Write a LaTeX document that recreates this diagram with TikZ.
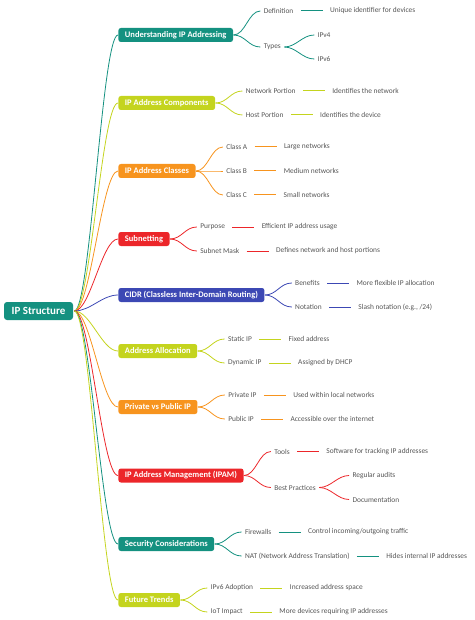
\documentclass[tikz,border=0pt]{standalone}
\usepackage{fontspec}
\setmainfont{Carlito}
\usetikzlibrary{calc,positioning}

\definecolor{brteal}{RGB}{20,145,128}
\definecolor{brlime}{RGB}{196,212,30}
\definecolor{brorange}{RGB}{247,148,30}
\definecolor{brred}{RGB}{236,38,42}
\definecolor{brblue}{RGB}{60,72,180}
\definecolor{txtgray}{RGB}{85,85,85}

\begin{document}
\begin{tikzpicture}[x=1pt,y=-1pt,line width=0.8pt]
   \tikzset{root/.style={fill=brteal, rounded corners=3pt, text=white, font=\fontsize{11}{13}\selectfont\bfseries, minimum width=69pt, minimum height=18pt, inner sep=0pt},
            topic/.style={fill=#1, rounded corners=2.5pt, text=white, font=\fontsize{8.5}{10}\selectfont\bfseries, anchor=west, minimum height=14pt, inner xsep=6.5pt, inner ysep=0pt},
            sub/.style={text=txtgray, font=\fontsize{7.4}{9}\selectfont, anchor=west, inner xsep=3pt, inner ysep=1pt},
            leafline/.style={line width=1pt, shorten <=4pt, shorten >=4pt}};

\useasboundingbox (0,0) rectangle (474,620);

\node[root] (root) at (38.5,311) {IP Structure};

% main topics
\node[topic=brteal] (t1) at (118,35) {Understanding IP Addressing};
\node[topic=brlime] (t2) at (118,103) {IP Address Components};
\node[topic=brorange] (t3) at (118,171) {IP Address Classes};
\node[topic=brred] (t4) at (118,239) {Subnetting};
\node[topic=brblue] (t5) at (118,295) {CIDR (Classless Inter-Domain Routing)};
\node[topic=brlime] (t6) at (118,351) {Address Allocation};
\node[topic=brorange] (t7) at (118,407) {Private vs Public IP};
\node[topic=brred] (t8) at (118,475.5) {IP Address Management (IPAM)};
\node[topic=brteal] (t9) at (118,544) {Security Considerations};
\node[topic=brlime] (t10) at (118,600) {Future Trends};

\foreach \t/\col in {t1/brteal,t2/brlime,t3/brorange,t4/brred,t5/brblue,t6/brlime,t7/brorange,t8/brred,t9/brteal,t10/brlime}
   \draw[draw=\col] ($(root.east)+(1,0)$) .. controls +(16,0) and +(-16,0) .. (\t.west);

% Understanding IP Addressing
\node[sub] (c11) at ($(t1.east)+(27,-24)$) {Definition};
\node[sub] (c12) at ($(t1.east)+(27,12)$) {Types};
\node[sub, right=30pt of c11] (l11) {Unique identifier for devices};
\node[sub] (g121) at ($(c12.east)+(30,-12)$) {IPv4};
\node[sub] (g122) at ($(c12.east)+(30,12)$) {IPv6};

% IP Address Components
\node[sub] (c21) at ($(t2.east)+(27,-12)$) {Network Portion};
\node[sub] (c22) at ($(t2.east)+(27,12)$) {Host Portion};
\node[sub, right=30pt of c21] (l21) {Identifies the network};
\node[sub, right=30pt of c22] (l22) {Identifies the device};

% IP Address Classes
\node[sub] (c31) at ($(t3.east)+(27,-24)$) {Class A};
\node[sub] (c32) at ($(t3.east)+(27,0)$) {Class B};
\node[sub] (c33) at ($(t3.east)+(27,24)$) {Class C};
\node[sub, right=30pt of c31] (l31) {Large networks};
\node[sub, right=30pt of c32] (l32) {Medium networks};
\node[sub, right=30pt of c33] (l33) {Small networks};

% Subnetting
\node[sub] (c41) at ($(t4.east)+(27,-12)$) {Purpose};
\node[sub] (c42) at ($(t4.east)+(27,12)$) {Subnet Mask};
\node[sub, right=30pt of c41] (l41) {Efficient IP address usage};
\node[sub, right=30pt of c42] (l42) {Defines network and host portions};

% CIDR
\node[sub] (c51) at ($(t5.east)+(27,-12)$) {Benefits};
\node[sub] (c52) at ($(t5.east)+(27,12)$) {Notation};
\node[sub, right=30pt of c51] (l51) {More flexible IP allocation};
\node[sub, right=30pt of c52] (l52) {Slash notation (e.g., /24)};

% Address Allocation
\node[sub] (c61) at ($(t6.east)+(27,-12)$) {Static IP};
\node[sub] (c62) at ($(t6.east)+(27,12)$) {Dynamic IP};
\node[sub, right=30pt of c61] (l61) {Fixed address};
\node[sub, right=30pt of c62] (l62) {Assigned by DHCP};

% Private vs Public IP
\node[sub] (c71) at ($(t7.east)+(27,-12)$) {Private IP};
\node[sub] (c72) at ($(t7.east)+(27,12)$) {Public IP};
\node[sub, right=30pt of c71] (l71) {Used within local networks};
\node[sub, right=30pt of c72] (l72) {Accessible over the internet};

% IPAM
\node[sub] (c81) at ($(t8.east)+(27,-24)$) {Tools};
\node[sub] (c82) at ($(t8.east)+(27,12)$) {Best Practices};
\node[sub, right=30pt of c81] (l81) {Software for tracking IP addresses};
\node[sub] (g821) at ($(c82.east)+(30,-12)$) {Regular audits};
\node[sub] (g822) at ($(c82.east)+(30,12)$) {Documentation};

% Security Considerations
\node[sub] (c91) at ($(t9.east)+(27,-12)$) {Firewalls};
\node[sub] (c92) at ($(t9.east)+(27,12)$) {NAT (Network Address Translation)};
\node[sub, right=30pt of c91] (l91) {Control incoming/outgoing traffic};
\node[sub, right=30pt of c92] (l92) {Hides internal IP addresses};

% Future Trends
\node[sub] (c101) at ($(t10.east)+(27,-12)$) {IPv6 Adoption};
\node[sub] (c102) at ($(t10.east)+(27,12)$) {IoT Impact};
\node[sub, right=30pt of c101] (l101) {Increased address space};
\node[sub, right=30pt of c102] (l102) {More devices requiring IP addresses};

% topic to sub-topic curves
\foreach \t/\s/\col in {t1/c11/brteal,t1/c12/brteal,c12/g121/brteal,c12/g122/brteal,
                      t2/c21/brlime,t2/c22/brlime,t3/c31/brorange,t3/c32/brorange,t3/c33/brorange,
                      t4/c41/brred,t4/c42/brred,t5/c51/brblue,t5/c52/brblue,
                      t6/c61/brlime,t6/c62/brlime,t7/c71/brorange,t7/c72/brorange,
                      t8/c81/brred,t8/c82/brred,c82/g821/brred,c82/g822/brred,
                      t9/c91/brteal,t9/c92/brteal,t10/c101/brlime,t10/c102/brlime}
   \draw[draw=\col] (\t.east) .. controls +(12,0) and +(-12,0) .. (\s.west);

% sub-topic to leaf lines
\foreach \s/\lf/\col in {c11/l11/brteal,c21/l21/brlime,c22/l22/brlime,c31/l31/brorange,c32/l32/brorange,c33/l33/brorange,
                      c41/l41/brred,c42/l42/brred,c51/l51/brblue,c52/l52/brblue,c61/l61/brlime,c62/l62/brlime,
                      c71/l71/brorange,c72/l72/brorange,c81/l81/brred,c91/l91/brteal,c92/l92/brteal,
                      c101/l101/brlime,c102/l102/brlime}
   \draw[draw=\col, leafline] (\s.east) -- (\lf.west);

\end{tikzpicture}
\end{document}
